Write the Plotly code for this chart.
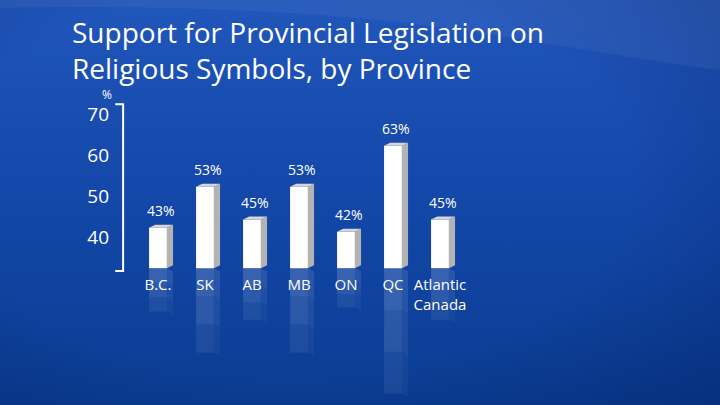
import base64
import plotly.graph_objects as go

# data
provinces = ["B.C.", "SK", "AB", "MB", "ON", "QC", "Atlantic<br>Canada"]
support = [43, 53, 45, 53, 42, 63, 45]
ytick_vals = [40, 50, 60, 70]
title = "Support for Provincial Legislation on<br>Religious Symbols, by Province"

baseline = 32.4   # where the bars stand
bar_w = 0.38
dx = 0.13         # 3d depth, sideways
dy = 0.73         # 3d depth, upwards

xs = list(range(len(provinces)))

# background gradient as an svg
svg = """<svg xmlns='http://www.w3.org/2000/svg' width='720' height='405' viewBox='0 0 720 405' preserveAspectRatio='none'>
<defs>
<linearGradient id='g' x1='0' y1='0' x2='0' y2='1'>
<stop offset='0' stop-color='#2156bb'/>
<stop offset='0.45' stop-color='#1448aa'/>
<stop offset='1' stop-color='#0a3d92'/>
</linearGradient>
<radialGradient id='r' cx='0.4' cy='0.45' r='0.8'>
<stop offset='0.6' stop-color='#001050' stop-opacity='0'/>
<stop offset='1' stop-color='#001050' stop-opacity='0.3'/>
</radialGradient>
</defs>
<rect width='720' height='405' fill='url(#g)'/>
<rect width='720' height='405' fill='url(#r)'/>
<path d='M0,0 L720,0 L720,70 C600,55 520,35 380,20 C250,8 120,5 0,8 Z' fill='#ffffff' fill-opacity='0.05'/>
</svg>"""
bg = "data:image/svg+xml;base64," + base64.b64encode(svg.encode()).decode()

fig = go.Figure()

# reflections, fading downwards
fades = [0.17, 0.12, 0.07]
for k, op in enumerate(fades):
    top = [baseline - (v - baseline) * k / len(fades) for v in support]
    bot = [baseline - (v - baseline) * (k + 1) / len(fades) for v in support]
    fig.add_trace(go.Bar(x=xs, y=[b - t for t, b in zip(top, bot)], base=top, width=bar_w,
                         marker=dict(color="rgba(255,255,255,%.2f)" % op, line=dict(width=0)),
                         hoverinfo="skip", showlegend=False))
    sx, sy = [], []
    for i, (t, b) in enumerate(zip(top, bot)):
        r = i + bar_w / 2
        sx += [r, r + dx, r + dx, r, None]
        sy += [t, t - dy, b - dy, b, None]
    fig.add_trace(go.Scatter(x=sx, y=sy, mode="lines", fill="toself", line=dict(width=0),
                             fillcolor="rgba(255,255,255,%.2f)" % (op * 0.6),
                             hoverinfo="skip", showlegend=False))

# front faces
fig.add_trace(go.Bar(x=xs, y=[v - dy - baseline for v in support], base=baseline, width=bar_w,
                     marker=dict(color="#ffffff", line=dict(width=0)), showlegend=False))

# side faces
sx, sy = [], []
for i, v in enumerate(support):
    r = i + bar_w / 2
    sx += [r, r + dx, r + dx, r, None]
    sy += [baseline, baseline + dy, v, v - dy, None]
fig.add_trace(go.Scatter(x=sx, y=sy, mode="lines", fill="toself", line=dict(width=0),
                         fillcolor="#b3b3b3", hoverinfo="skip", showlegend=False))

# top faces
tx, ty = [], []
for i, v in enumerate(support):
    l = i - bar_w / 2
    r = i + bar_w / 2
    tx += [l, l + dx, r + dx, r, None]
    ty += [v - dy, v, v, v - dy, None]
fig.add_trace(go.Scatter(x=tx, y=ty, mode="lines", fill="toself", line=dict(width=0),
                         fillcolor="#d6d6d6", hoverinfo="skip", showlegend=False))

# value labels
for i, v in enumerate(support):
    fig.add_annotation(x=i + dx / 2, y=v, text=f"{v}%", showarrow=False, yanchor="bottom",
                       yshift=3, font=dict(size=14, color="white"))

fig.add_annotation(xref="paper", yref="paper", x=70 / 720, y=1 - 11 / 405,
                   xanchor="left", yanchor="top", align="left", showarrow=False,
                   text=title, font=dict(size=28, color="white", family="Open Sans"))
fig.add_annotation(xref="paper", yref="paper", x=100 / 720, y=1 - 95 / 405, showarrow=False,
                   yanchor="middle", text="%", font=dict(size=12, color="white"))

# the bracket next to the y ticks
fig.add_shape(type="path", xref="paper", yref="y",
              path="M 0.160,72.4 L 0.171,72.4 L 0.171,31.7 L 0.160,31.7",
              line=dict(color="white", width=2))

fig.update_layout(
    width=720, height=405,
    margin=dict(l=0, r=0, t=0, b=0),
    paper_bgcolor="#0c3f98", plot_bgcolor="rgba(0,0,0,0)",
    font=dict(family="Open Sans", color="white"),
    barmode="overlay",
    images=[dict(source=bg, xref="paper", yref="paper", x=0, y=1, sizex=1, sizey=1,
                 sizing="stretch", layer="below", xanchor="left", yanchor="top")],
    xaxis=dict(range=[-158 / 47, (720 - 158) / 47], domain=[0, 1], tickvals=xs, ticktext=provinces,
               anchor="free", position=(405 - 268) / 405, showgrid=False, zeroline=False,
               showline=False, ticks="", ticklabelstandoff=6, tickfont=dict(size=15, color="white")),
    yaxis=dict(range=[40 - 168 / 4.1, 40 + 237 / 4.1], domain=[0, 1], tickvals=ytick_vals,
               anchor="free", position=123 / 720, showgrid=False, zeroline=False, showline=False,
               ticks="", ticklabelstandoff=14, tickfont=dict(size=19, color="white")),
)

fig.write_html("out.html", config={"displayModeBar": False},
               post_script="document.body.style.margin='0';")
